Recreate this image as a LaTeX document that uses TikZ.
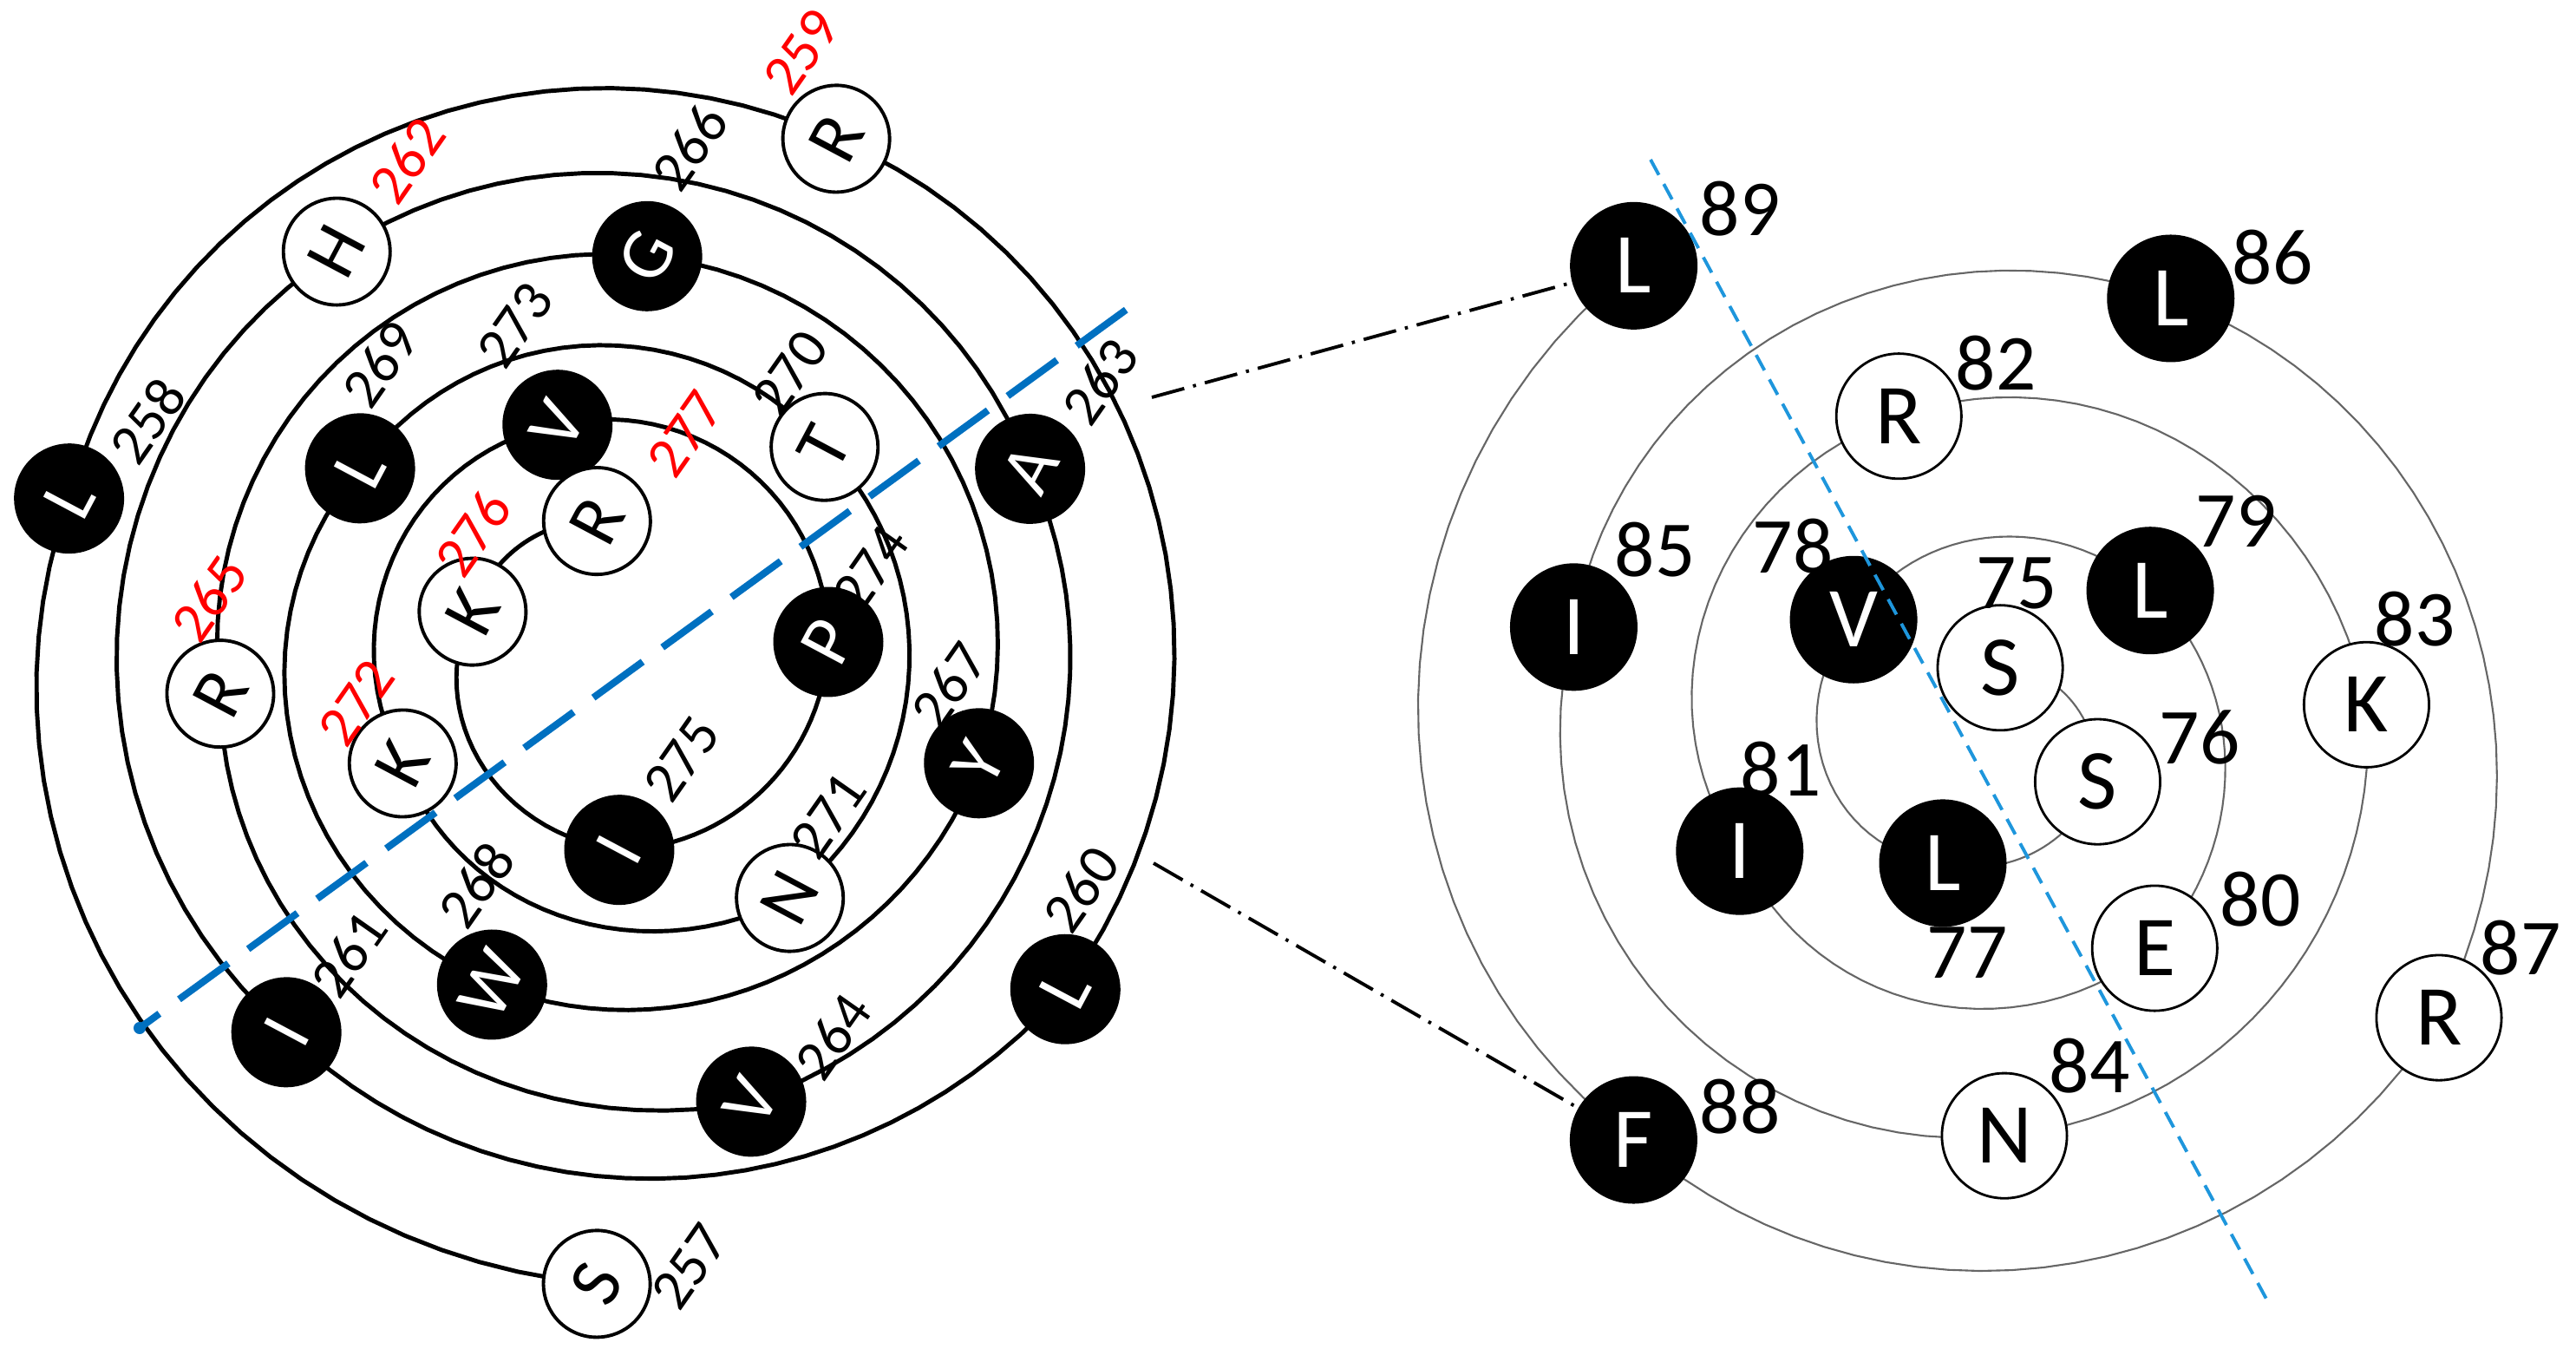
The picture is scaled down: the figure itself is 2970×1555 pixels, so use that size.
\documentclass[tikz,border=0pt]{standalone}
\usepackage{fontspec}
\setmainfont{Carlito}
\definecolor{lblue}{RGB}{0,112,192}
\definecolor{rblue}{RGB}{30,150,220}
\tikzset{
  lres/.style={circle,draw=black,line width=1.1pt,minimum size=35pt,inner sep=0pt,font=\fontsize{24pt}{24pt}\selectfont,rotate=62},
  lw/.style={lres,fill=white,text=black},
  lb/.style={lres,fill=black,text=white},
  rres/.style={circle,draw=black,line width=0.8pt,minimum size=41pt,inner sep=0pt,font=\fontsize{28pt}{28pt}\selectfont},
  rw/.style={rres,fill=white,text=black},
  rb/.style={rres,fill=black,text=white},
  lnum/.style={font=\fontsize{19pt}{19pt}\selectfont,rotate=55,inner sep=0pt},
  lred/.style={lnum,text=red},
  rnum/.style={font=\fontsize{26pt}{26pt}\selectfont,inner sep=0pt},
  lspiral/.style={line width=1.4pt,black},
  rspiral/.style={line width=0.6pt,black!60},
  dashdot/.style={line width=1.1pt,dash pattern=on 11pt off 3pt on 1pt off 3pt},
}
\newcommand{\segm}[7]{\draw[#7] plot[domain=0:1,samples=30,variable=\t] ({#1+(#3+(#5-#3)*\t)*cos(#4+(#6-#4)*\t)},{#2+(#3+(#5-#3)*\t)*sin(#4+(#6-#4)*\t)});}
\begin{document}
\begin{tikzpicture}[x=0.01cm,y=0.01cm]
\useasboundingbox (0,0) rectangle (2970,-1555);
% left spiral
\foreach \ra/\aa/\rb/\ab in {740/-91/643/-194.9, 643/-194.9/637/-294.4, 637/-294.4/662/-397.2, 662/-397.2/583/-489.5, 583/-489.5/548/-595.2, 548/-595.2/526/-697.7, 526/-697.7/555/-792.7, 555/-792.7/451/-892.4, 451/-892.4/447/-995.8, 447/-995.8/450/-1098.1, 450/-1098.1/417/-1188.7, 417/-1188.7/349/-1295, 349/-1295/336/-1398, 336/-1398/362/-1494.6, 362/-1494.6/275/-1589.4, 275/-1589.4/257/-1696.9, 257/-1696.9/254/-1800, 254/-1800/240/-1886.9, 240/-1886.9/160/-1992.6, 160/-1992.6/140/-2064.8}
  {\segm{701}{-740}{\ra}{\aa}{\rb}{\ab}{lspiral}}
% right spiral
\foreach \ra/\aa/\rb/\ab in {88/65.8/157/-19, 157/-19/148/-101.7, 148/-101.7/190/-225.6, 190/-225.6/269/-321, 269/-321/324/-408.6, 324/-408.6/295/-513.6, 295/-513.6/379/-617.7, 379/-617.7/460/-715.3, 460/-715.3/461/-804.9, 461/-804.9/473/-915.6, 473/-915.6/557/-1014.7, 557/-1014.7/631/-1110.8, 631/-1110.8/604/-1209.8, 604/-1209.8/667/-1314.6}
  {\segm{2270}{-850}{\ra}{\aa}{\rb}{\ab}{rspiral}}
% left residues
\foreach \n/\r/\a/\l/\s in {257/740/-91/S/lw, 258/643/-194.9/L/lb, 259/637/-294.4/R/lw, 260/662/-397.2/L/lb, 261/583/-489.5/I/lb, 262/548/-595.2/H/lw, 263/526/-697.7/A/lb, 264/555/-792.7/V/lb, 265/451/-892.4/R/lw, 266/447/-995.8/G/lb, 267/450/-1098.1/Y/lb, 268/417/-1188.7/W/lb, 269/349/-1295/L/lb, 270/336/-1398/T/lw, 271/362/-1494.6/N/lw, 272/275/-1589.4/K/lw, 273/257/-1696.9/V/lb, 274/254/-1800/P/lb, 275/240/-1886.9/I/lb, 276/160/-1992.6/K/lw, 277/140/-2064.8/R/lw}
  {\node[\s] (r\n) at ({701+\r*cos(\a)},{-740+\r*sin(\a)}) {\l};}
% right residues
\foreach \n/\r/\a/\l/\s in {75/88/65.8/S/rw, 76/157/-19/S/rw, 77/148/-101.7/L/rb, 78/190/-225.6/V/rb, 79/269/-321/L/rb, 80/324/-408.6/E/rw, 81/295/-513.6/I/rb, 82/379/-617.7/R/rw, 83/460/-715.3/K/rw, 84/461/-804.9/N/rw, 85/473/-915.6/I/rb, 86/557/-1014.7/L/rb, 87/631/-1110.8/R/rw, 88/604/-1209.8/F/rb, 89/667/-1314.6/L/rb}
  {\node[\s] (r\n) at ({2270+\r*cos(\a)},{-850+\r*sin(\a)}) {\l};}
% left numbers
\foreach \n/\x/\y/\s in {257/795/1460/lnum, 258/170/485/lnum, 259/924/60/lred, 260/1246/1025/lnum, 261/402/1100/lnum, 262/469/185/lred, 263/1268/440/lnum, 264/960/1195/lnum, 265/241/690/lred, 266/795/170/lnum, 267/1094/790/lnum, 268/549/1020/lnum, 269/438/420/lnum, 270/911/430/lnum, 271/955/940/lnum, 272/411/810/lred, 273/594/375/lnum, 274/1004/655/lnum, 275/786/875/lnum, 276/545/615/lred, 277/790/500/lred}
  {\node[\s] (n\n) at (\x,-\y) {\n};}
% right numbers
\foreach \n/\x/\y in {89/2006/241, 86/2620/297, 82/2301/419, 85/1908/634, 78/2067/630, 75/2325/672, 79/2578/601, 83/2784/714, 76/2536/850, 81/2053/887, 77/2268/1098, 80/2606/1037, 87/2906/1093, 84/2409/1229, 88/2006/1276}
  {\node[rnum] (n\n) at (\x,-\y) {\n};}
% blue axes
\coordinate (b1) at (161,-1185);
\coordinate (b2) at (1308,-350);
\fill[lblue] (b1) circle (2pt);
\draw[lblue,line width=2.3pt,dash pattern=on 20pt off 8pt,dash phase=12pt] (b1) -- (b2);
\coordinate (c1) at (1903,-184);
\coordinate (c2) at (2615,-1501);
\draw[rblue,line width=1.1pt,dash pattern=on 5.7pt off 3.4pt] (c1) -- (c2);
% dash-dot connectors
\coordinate (d1) at (1328,-458);
\coordinate (d2) at (1330,-995);
\draw[dashdot] (d1) -- (r89);
\draw[dashdot] (d2) -- (r88);
\end{tikzpicture}
\end{document}
